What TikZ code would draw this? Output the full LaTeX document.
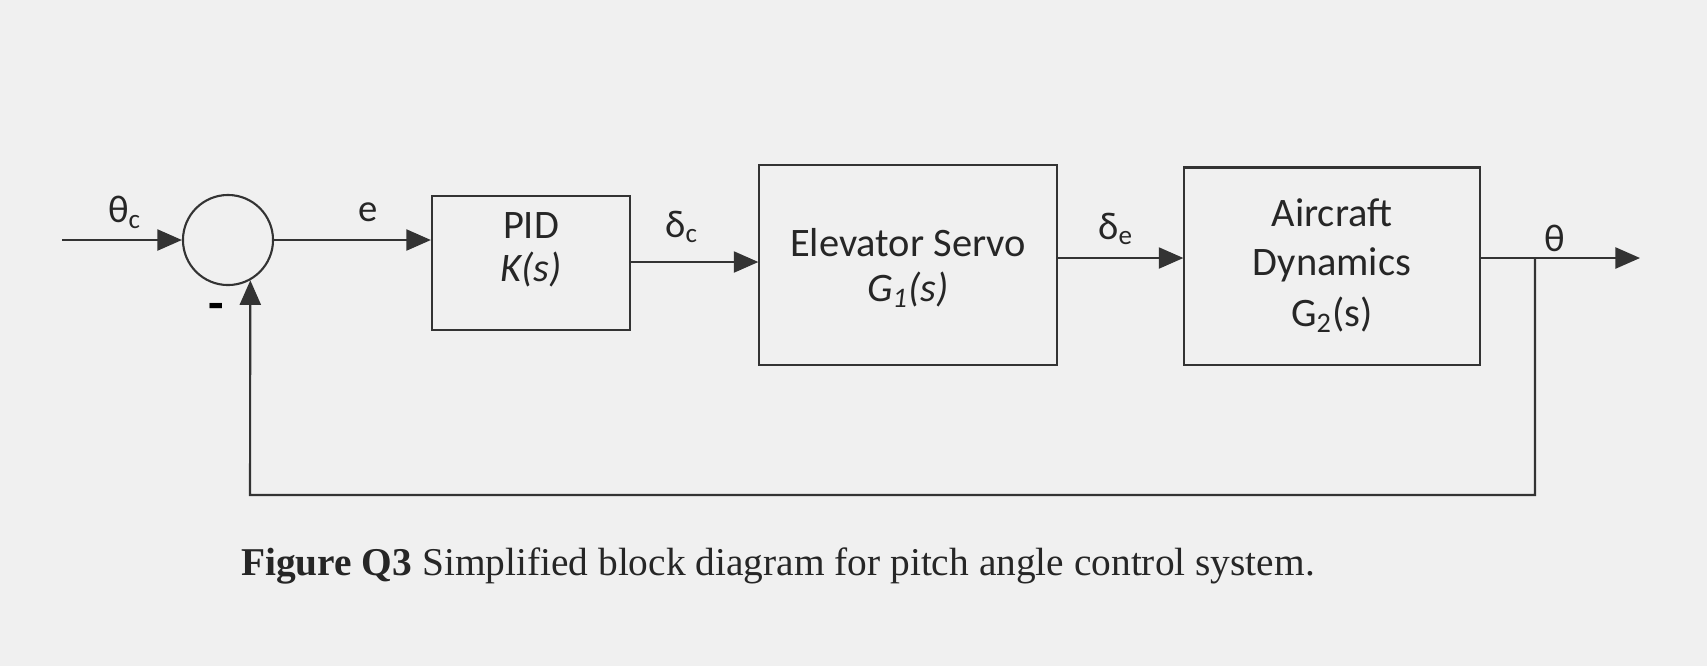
\documentclass[tikz,border=0pt]{standalone}
\usepackage{fontspec}
\setmainfont{Carlito}
\newfontfamily\capfont{Liberation Serif}
\usetikzlibrary{arrows.meta}
\begin{document}
\begin{tikzpicture}[x=0.01cm,y=-0.01cm,
  blk/.style={draw=black!80,line width=0.6pt,inner sep=0pt},
  sig/.style={draw=black!80,line width=0.6pt,-{Triangle[length=7pt,width=6pt]}},
  lbl/.style={font=\fontsize{11.5pt}{13pt}\selectfont,text=black!85},
  note/.style={font=\fontsize{11pt}{12pt}\selectfont,text=black!85}]
\fill[black!6] (0,0) rectangle (1707,666);
\useasboundingbox (0,0) rectangle (1707,666);
\coordinate (in) at (62,240);
\node[draw=black!80,line width=0.6pt,circle,minimum size=0.9cm,inner sep=0pt] (sum) at (228,240) {};
\node[blk,minimum width=1.98cm,minimum height=1.34cm] (pid) at (531,263) {};
\node[lbl] at (531,226) {PID};
\node[lbl] at (531,270) {\itshape K(s)};
\node[blk,minimum width=2.97cm,minimum height=2.0cm] (serv) at (908,265) {};
\node[lbl] at (908,243) {Elevator Servo};
\node[lbl] at (908,290) {\itshape G\textsubscript{1}(s)};
\node[blk,minimum width=2.95cm,minimum height=1.97cm] (air) at (1332,266) {};
\node[lbl] at (1332,213) {Aircraft};
\node[lbl] at (1332,265) {Dynamics};
\node[lbl] at (1332,315) {G\textsubscript{2}(s)};
\coordinate (out) at (1640,258);
\coordinate (tap) at (1535,258);
\draw[sig] (in) -- (sum.west);
\draw[sig] (sum.east) -- (pid.west |- sum.east);
\draw[sig] (pid.east |- 0,262) -- (serv.west |- 0,262);
\draw[sig] (serv.east |- 0,258) -- (air.west |- 0,258);
\draw[sig] (air.east |- out) -- (out);
\draw[sig] (tap) |- (250,495) -- (sum.-61);
\node[note] (l1) at (125,212) {θ\textsubscript{c}};
\node[note] (l2) at (368,212) {e};
\node[note] (l3) at (682,227) {δ\textsubscript{c}};
\node[note] (l4) at (1116,229) {δ\textsubscript{e}};
\node[note] (l5) at (1555,238) {θ};
\node[font=\bfseries\Large] (m) at (216,312) {-};
\node[font=\capfont\fontsize{11.2pt}{13pt}\selectfont,text=black!85] (cap) at (778,566) {\textbf{Figure Q3} Simplified block diagram for pitch angle control system.};
\end{tikzpicture}
\end{document}
